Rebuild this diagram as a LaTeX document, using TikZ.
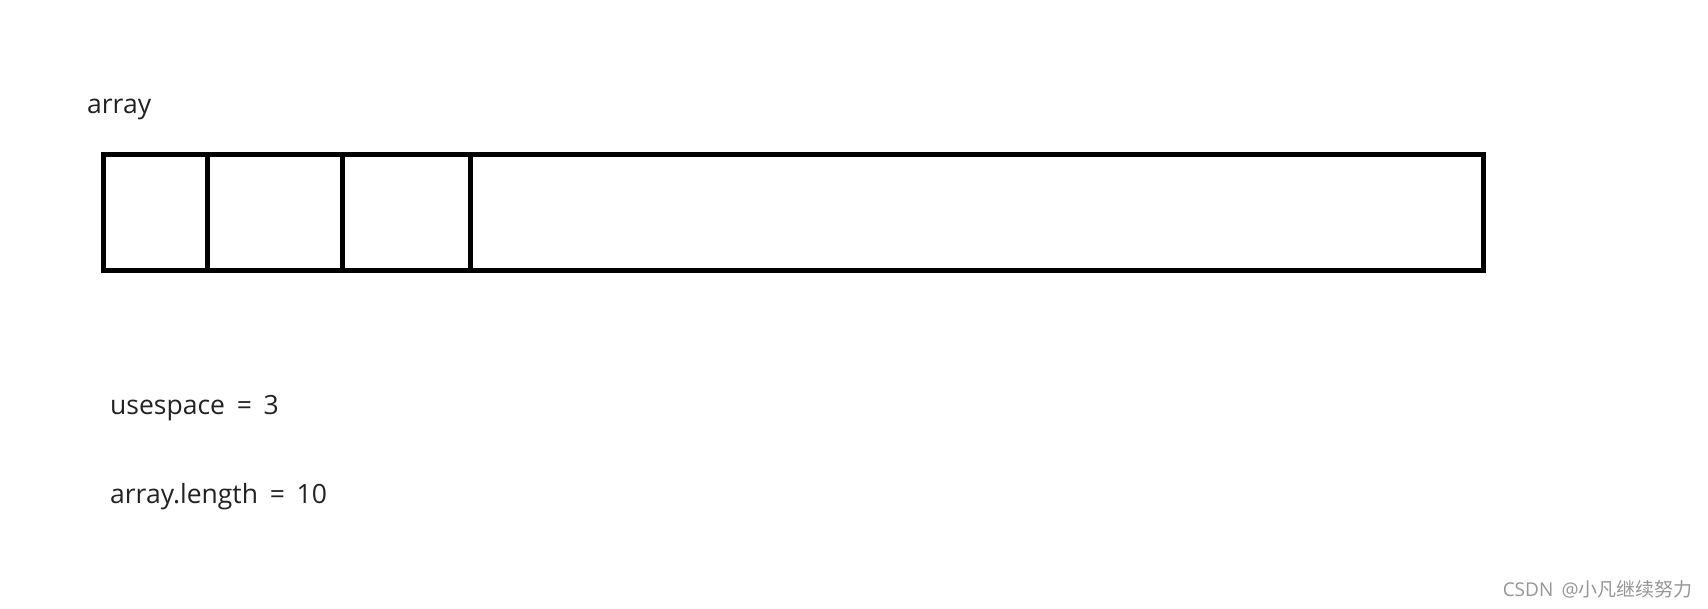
\documentclass[tikz,border=0pt]{standalone}
\usepackage{fontspec}
\setmainfont{Open Sans}[WordSpace=1.7]
\newfontfamily\cjkfont{Noto Sans CJK SC}
\usepackage{xcolor}
\usetikzlibrary{positioning}
\definecolor{textgray}{RGB}{34, 34, 34}
\definecolor{markgray}{RGB}{150, 150, 150}
\tikzstyle{cell} = [rectangle, draw=black, line width=5pt, minimum height=116pt, inner sep=0pt, outer sep=0pt]
\tikzstyle{label} = [anchor=base west, inner sep=0pt, text=textgray, font=\fontsize{26.5}{30}\selectfont]

\begin{document}
\begin{tikzpicture}[x=1pt, y=1pt, node distance=0pt]
\useasboundingbox (0,0) rectangle (1708,-608);

% Array title
\node (title) [label] at (87,-113) {array};

% Array cells
\node (cellA) [cell, minimum width=104.5pt, anchor=north west] at (103,-154.5) {};
\node (cellB) [cell, minimum width=134.5pt, right=of cellA] {};
\node (cellC) [cell, minimum width=128.5pt, right=of cellB] {};
\node (rest) [cell, minimum width=1013pt, right=of cellC] {};

% Info text
\node (used) [label] at (110,-414) {usespace = 3};
\node (length) [label] at (110,-503) {array.length = 10};

% Watermark
\node (mark) [anchor=base east, inner sep=0pt, text=markgray, font=\fontsize{19}{22}\selectfont] at (1693,-596) {CSDN @\cjkfont 小凡继续努力};

\end{tikzpicture}
\end{document}
